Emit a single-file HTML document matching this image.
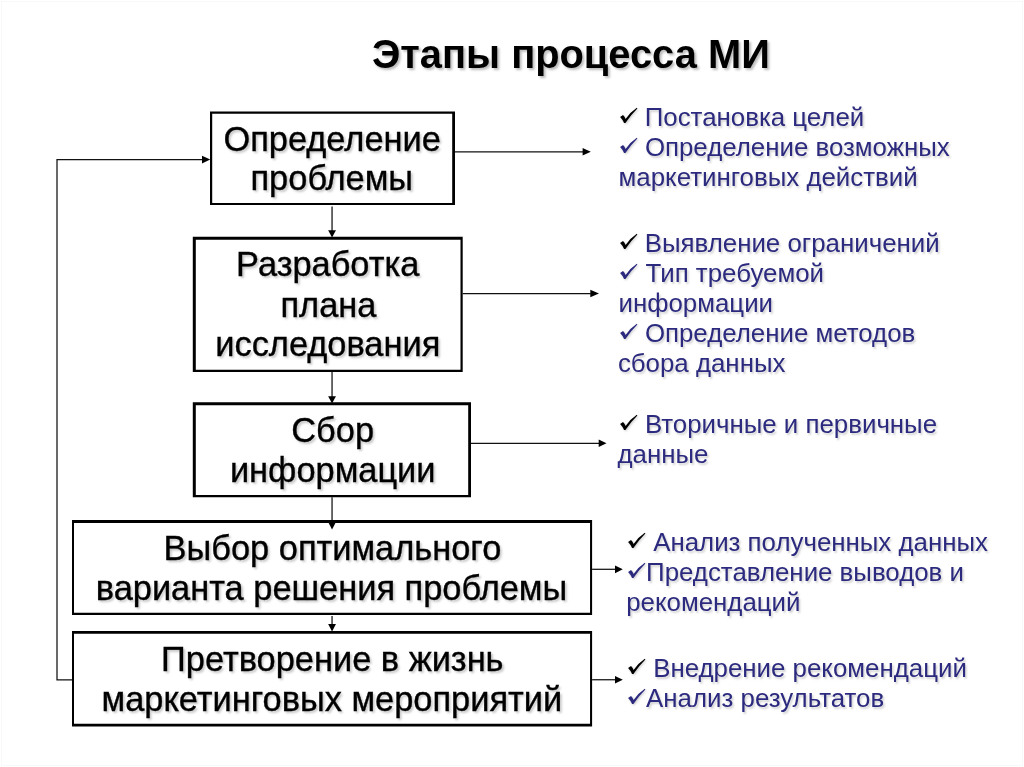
<!DOCTYPE html>
<html lang="ru">
<head>
<meta charset="utf-8">
<title>Этапы процесса МИ</title>
<style>
  html, body { margin: 0; padding: 0; }
  body {
    width: 1024px; height: 767px; position: relative; overflow: hidden;
    background: #ffffff;
    font-family: "Liberation Sans", "DejaVu Sans", sans-serif;
  }
  #frame { position: absolute; left: 1px; top: 1px; width: 1022px; height: 765px; box-sizing: border-box;
    border: 1px solid #f8f8f8; }
  svg#lines { position: absolute; left: 0; top: 0; }
  .t { position: absolute; white-space: nowrap; margin: 0; filter: blur(0.3px); }
  .title { font-weight: bold; font-size: 39.85px; line-height: 46px; color: #000;
    text-shadow: 2px 2px 2.5px rgba(0,0,0,0.27); }
  .bx { font-size: 34.4px; line-height: 40px; color: #000; -webkit-text-stroke: 0.35px #000;
    text-shadow: 1.8px 1.8px 2.5px rgba(0,0,0,0.24); }
  .bl { font-size: 25.85px; line-height: 30px; color: #2c2a7e;
    text-shadow: 1.5px 1.5px 2.2px rgba(0,0,0,0.19); }
  svg.ck { position: absolute; width: 18px; height: 16px; overflow: visible;
    fill: #2c2a7e; filter: drop-shadow(1.2px 1.2px 1px rgba(0,0,0,0.22)) blur(0.25px); }
  svg.ck.k { fill: #000; }
</style>
</head>
<body>
<div id="frame"></div>

<svg id="lines" width="1024" height="767" viewBox="0 0 1024 767" xmlns="http://www.w3.org/2000/svg">
  <g fill="none" stroke="#111" stroke-width="1.25">
    <path d="M332.05 206.5 V231"/>
    <path d="M332.05 372.0 V397"/>
    <path d="M332.05 497.2 V521"/>
    <path d="M332.05 616.0 V625"/>
    <path d="M455.0 151.75 H583.1"/>
    <path d="M462.7 293.5 H590.8"/>
    <path d="M471.0 443.25 H599.2"/>
    <path d="M592.1 569.3 H615.5"/>
    <path d="M592.1 679.75 H615.5"/>
    <path d="M72.5 679.75 H57 V159.6 H202.5"/>
  </g>
  <g fill="#000" fill-rule="evenodd">
    <path d="M210.0,111.6H455.0V205.0H210.0Z M212.20,113.80V203.00H452.20V113.80Z"/>
    <path d="M192.8,236.75H462.7V372.0H192.8Z M195.80,239.75V369.80H460.50V239.75Z"/>
    <path d="M192.8,402.3H471.0V497.25H192.8Z M195.80,405.20V494.95H468.20V405.20Z"/>
    <path d="M72.0,519.9H592.1V615.0H72.0Z M74.00,523.00V612.80H590.05V523.00Z"/>
    <path d="M72.0,630.9H592.1V726.6H72.0Z M74.00,633.75V723.80H590.05V633.75Z"/>
  </g>
  <g fill="#000">
    <polygon points="328.15,230.2 335.95,230.2 332.05,237.6"/>
    <polygon points="328.15,396.2 335.95,396.2 332.05,403.6"/>
    <polygon points="328.15,522.0 335.95,522.0 332.05,529.5"/>
    <polygon points="328.15,624.0 335.95,624.0 332.05,631.4"/>
    <polygon points="582.6,147.90 582.6,155.60 590.8,151.75"/>
    <polygon points="590.3,289.65 590.3,297.35 599.0,293.5"/>
    <polygon points="598.7,439.40 598.7,447.10 606.5,443.25"/>
    <polygon points="615.0,565.45 615.0,573.15 622.8,569.3"/>
    <polygon points="615.0,675.90 615.0,683.60 622.8,679.75"/>
    <polygon points="202.0,155.80 202.0,163.40 210.2,159.6"/>
  </g>
</svg>

<h1 class="t title" style="left:372.00px; top:31px;">Этапы процесса МИ</h1>
<div class="t bx" style="left:223.40px; top:119px;">Определение</div>
<div class="t bx" style="left:250.50px; top:158px;">проблемы</div>
<div class="t bx" style="left:236.10px; top:244px;">Разработка</div>
<div class="t bx" style="left:280.50px; top:285px;">плана</div>
<div class="t bx" style="left:215.25px; top:324px;">исследования</div>
<div class="t bx" style="left:291.25px; top:410px;">Сбор</div>
<div class="t bx" style="left:229.90px; top:450px;">информации</div>
<div class="t bx" style="left:163.60px; top:528px;">Выбор оптимального</div>
<div class="t bx" style="left:95.75px; top:568px;">варианта решения проблемы</div>
<div class="t bx" style="left:161.10px; top:639px;">Претворение в жизнь</div>
<div class="t bx" style="left:101.50px; top:679px;">маркетинговых мероприятий</div>
<div class="t bl" style="left:644.75px; top:102px;">Постановка целей</div>
<div class="t bl" style="left:644.90px; top:132px;">Определение возможных</div>
<div class="t bl" style="left:618.60px; top:162px;">маркетинговых действий</div>
<div class="t bl" style="left:644.75px; top:228px;">Выявление ограничений</div>
<div class="t bl" style="left:645.60px; top:258px;">Тип требуемой</div>
<div class="t bl" style="left:618.50px; top:288px;">информации</div>
<div class="t bl" style="left:644.90px; top:318px;">Определение методов</div>
<div class="t bl" style="left:617.90px; top:348px;">сбора данных</div>
<div class="t bl" style="left:644.90px; top:409px;">Вторичные и первичные</div>
<div class="t bl" style="left:617.50px; top:439px;">данные</div>
<div class="t bl" style="left:653.20px; top:527px;">Анализ полученных данных</div>
<div class="t bl" style="left:646.10px; top:557px;">Представление выводов и</div>
<div class="t bl" style="left:626.20px; top:587px;">рекомендаций</div>
<div class="t bl" style="left:653.20px; top:653px;">Внедрение рекомендаций</div>
<div class="t bl" style="left:646.10px; top:683px;">Анализ результатов</div>

<svg class="ck k" style="left:619.80px; top:107.70px;" viewBox="0 0 18 16" xmlns="http://www.w3.org/2000/svg"><path d="M0.1,8.9 L3.0,7.1 Q4.7,8.8 5.6,10.9 Q9.8,4.4 16.8,-0.3 L17.4,0.4 Q11.0,6.6 5.4,15.0 L4.1,15.0 Q2.8,11.7 0.1,8.9 Z"/></svg>
<svg class="ck" style="left:619.80px; top:137.70px;" viewBox="0 0 18 16" xmlns="http://www.w3.org/2000/svg"><path d="M0.1,8.9 L3.0,7.1 Q4.7,8.8 5.6,10.9 Q9.8,4.4 16.8,-0.3 L17.4,0.4 Q11.0,6.6 5.4,15.0 L4.1,15.0 Q2.8,11.7 0.1,8.9 Z"/></svg>
<svg class="ck k" style="left:620.00px; top:233.70px;" viewBox="0 0 18 16" xmlns="http://www.w3.org/2000/svg"><path d="M0.1,8.9 L3.0,7.1 Q4.7,8.8 5.6,10.9 Q9.8,4.4 16.8,-0.3 L17.4,0.4 Q11.0,6.6 5.4,15.0 L4.1,15.0 Q2.8,11.7 0.1,8.9 Z"/></svg>
<svg class="ck" style="left:620.00px; top:263.70px;" viewBox="0 0 18 16" xmlns="http://www.w3.org/2000/svg"><path d="M0.1,8.9 L3.0,7.1 Q4.7,8.8 5.6,10.9 Q9.8,4.4 16.8,-0.3 L17.4,0.4 Q11.0,6.6 5.4,15.0 L4.1,15.0 Q2.8,11.7 0.1,8.9 Z"/></svg>
<svg class="ck" style="left:620.00px; top:323.70px;" viewBox="0 0 18 16" xmlns="http://www.w3.org/2000/svg"><path d="M0.1,8.9 L3.0,7.1 Q4.7,8.8 5.6,10.9 Q9.8,4.4 16.8,-0.3 L17.4,0.4 Q11.0,6.6 5.4,15.0 L4.1,15.0 Q2.8,11.7 0.1,8.9 Z"/></svg>
<svg class="ck k" style="left:620.00px; top:414.70px;" viewBox="0 0 18 16" xmlns="http://www.w3.org/2000/svg"><path d="M0.1,8.9 L3.0,7.1 Q4.7,8.8 5.6,10.9 Q9.8,4.4 16.8,-0.3 L17.4,0.4 Q11.0,6.6 5.4,15.0 L4.1,15.0 Q2.8,11.7 0.1,8.9 Z"/></svg>
<svg class="ck k" style="left:628.00px; top:532.70px;" viewBox="0 0 18 16" xmlns="http://www.w3.org/2000/svg"><path d="M0.1,8.9 L3.0,7.1 Q4.7,8.8 5.6,10.9 Q9.8,4.4 16.8,-0.3 L17.4,0.4 Q11.0,6.6 5.4,15.0 L4.1,15.0 Q2.8,11.7 0.1,8.9 Z"/></svg>
<svg class="ck" style="left:628.00px; top:562.70px;" viewBox="0 0 18 16" xmlns="http://www.w3.org/2000/svg"><path d="M0.1,8.9 L3.0,7.1 Q4.7,8.8 5.6,10.9 Q9.8,4.4 16.8,-0.3 L17.4,0.4 Q11.0,6.6 5.4,15.0 L4.1,15.0 Q2.8,11.7 0.1,8.9 Z"/></svg>
<svg class="ck k" style="left:628.30px; top:658.70px;" viewBox="0 0 18 16" xmlns="http://www.w3.org/2000/svg"><path d="M0.1,8.9 L3.0,7.1 Q4.7,8.8 5.6,10.9 Q9.8,4.4 16.8,-0.3 L17.4,0.4 Q11.0,6.6 5.4,15.0 L4.1,15.0 Q2.8,11.7 0.1,8.9 Z"/></svg>
<svg class="ck" style="left:628.30px; top:688.70px;" viewBox="0 0 18 16" xmlns="http://www.w3.org/2000/svg"><path d="M0.1,8.9 L3.0,7.1 Q4.7,8.8 5.6,10.9 Q9.8,4.4 16.8,-0.3 L17.4,0.4 Q11.0,6.6 5.4,15.0 L4.1,15.0 Q2.8,11.7 0.1,8.9 Z"/></svg>

</body>
</html>
